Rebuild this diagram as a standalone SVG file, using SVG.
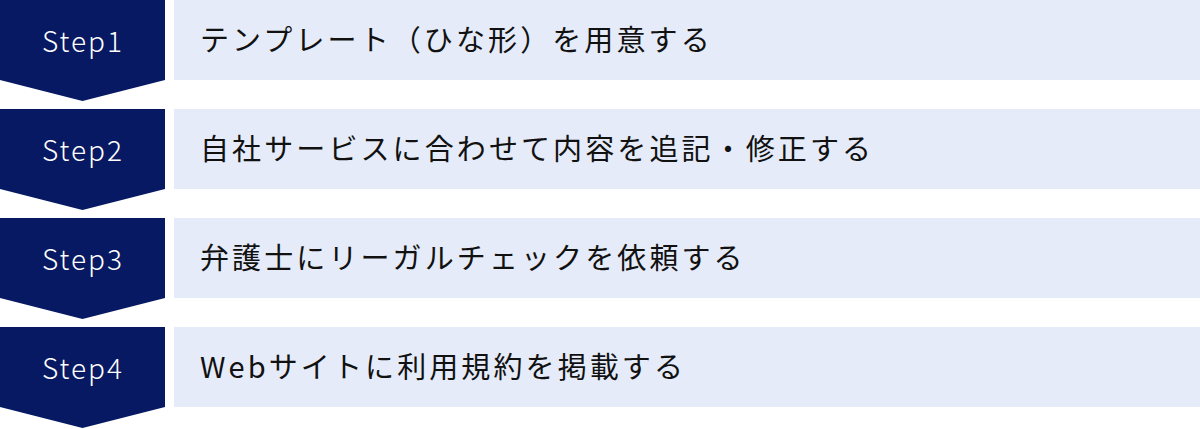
<svg xmlns="http://www.w3.org/2000/svg" width="1200" height="429" viewBox="0 0 1200 429">
  <style>
    .badge { fill: #061962; }
    .box { fill: #E5EBF8; }
    .step { font-family: "Noto Sans CJK JP", "Noto Sans", sans-serif; font-size: 28px; font-weight: 300; fill: #FFFFFF; text-anchor: middle; letter-spacing: 2px; }
    .label { font-family: "Noto Sans CJK JP", "Noto Sans", sans-serif; font-size: 29px; fill: #111111; letter-spacing: 3.1px; }
  </style>
  <rect width="1200" height="429" fill="#FFFFFF"/>
  <g id="connectors"></g>
  <g id="step1">
    <polygon class="badge" points="0,0 165,0 165,80 82.5,101 0,80"/>
    <rect class="box" x="174" y="0" width="1026" height="80"/>
    <text class="step" x="83" y="52">Step1</text>
    <text class="label" x="200" y="51">テンプレート（ひな形）を用意する</text>
  </g>
  <g id="step2">
    <polygon class="badge" points="0,109 165,109 165,189 82.5,210 0,189"/>
    <rect class="box" x="174" y="109" width="1026" height="80"/>
    <text class="step" x="83" y="161">Step2</text>
    <text class="label" x="200" y="160">自社サービスに合わせて内容を追記・修正する</text>
  </g>
  <g id="step3">
    <polygon class="badge" points="0,218 165,218 165,298 82.5,319 0,298"/>
    <rect class="box" x="174" y="218" width="1026" height="80"/>
    <text class="step" x="83" y="270">Step3</text>
    <text class="label" x="200" y="269">弁護士にリーガルチェックを依頼する</text>
  </g>
  <g id="step4">
    <polygon class="badge" points="0,327 165,327 165,407 82.5,428 0,407"/>
    <rect class="box" x="174" y="327" width="1026" height="80"/>
    <text class="step" x="83" y="379">Step4</text>
    <text class="label" x="200" y="378">Webサイトに利用規約を掲載する</text>
  </g>
</svg>
